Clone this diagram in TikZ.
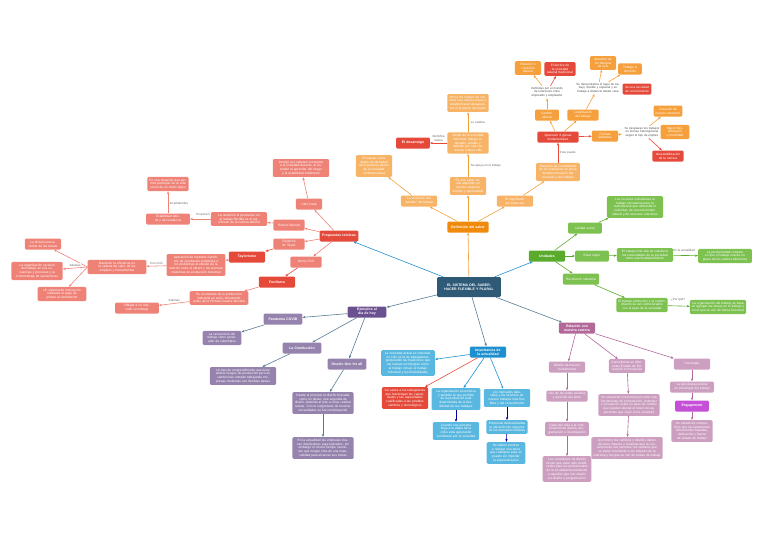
\documentclass[tikz,border=0pt]{standalone}
\usepackage{fontspec}
\setmainfont{Liberation Sans}
\usetikzlibrary{arrows.meta}
\definecolor{cen}{HTML}{2E5A78}
\definecolor{odk}{HTML}{F08A0C}
\definecolor{olt}{HTML}{F7B366}
\definecolor{omd}{HTML}{F5A03C}
\definecolor{rd}{HTML}{E5493A}
\definecolor{sal}{HTML}{EF8277}
\definecolor{gdk}{HTML}{5AAB2C}
\definecolor{glt}{HTML}{7DC150}
\definecolor{pdk}{HTML}{6B5190}
\definecolor{plt}{HTML}{9583AE}
\definecolor{bdk}{HTML}{1E8FCF}
\definecolor{blt}{HTML}{5AB8E0}
\definecolor{kdk}{HTML}{B3689A}
\definecolor{klt}{HTML}{CC9FC0}
\definecolor{mag}{HTML}{C54FD6}
\tikzset{
 bx/.style={rounded corners=1.2pt,text=white,align=center,inner sep=1.8pt,minimum height=11pt,font=\fontsize{3.2}{3.8}\selectfont},
 hd/.style={bx,font=\fontsize{3.5}{4.1}\selectfont\bfseries},
 lb/.style={font=\fontsize{3}{3.6}\selectfont,text=gray!80!black,fill=white,inner sep=0.6pt,align=center},
 tx/.style={font=\fontsize{3}{3.6}\selectfont,text=black!70,align=center,inner sep=1pt},
 ar/.style={-{Stealth[length=3pt,width=2.4pt]},line width=0.6pt},
}
\newcommand\mbx[5]{\pgfmathsetmacro\mw{#3*1.25}\node[#1,text width=\mw pt] (#2) at (#4) {#5};}
\begin{document}
\begin{tikzpicture}[x=1pt,y=-1pt]
\useasboundingbox (0,0) rectangle (768,543);
% central
\mbx{hd,fill=cen,minimum height=20pt}{c}{48}{469,287}{EL SISTEMA DEL SABERHACER FLEXIBLE Y PLURAL}
% ---------------- orange
\mbx{hd,fill=odk}{def}{30}{468,227}{Definición del saber}
\mbx{bx,fill=olt}{evo}{26}{419,201}{La evolución del ``sentido'' del trabajo}
\mbx{bx,fill=olt}{ide}{26}{374,166}{El trabajo como objeto de identidad de la persona dentro de la sociedad contemporánea}
\mbx{bx,fill=olt}{soc}{26}{468,186}{Es ese saber social adquirido en nuestra etapa de empleo y aprendizaje}
\mbx{bx,fill=olt}{sig}{26}{515,201}{El significado del saber-ser}
\mbx{bx,fill=olt}{gru}{30}{468,143}{Grupo de la sociedad industrial, trabajo ordenado, estable y definido por una carrera de toda la vida}
\mbx{hd,fill=rd}{des}{24}{413,143}{El desarraigo}
\mbx{bx,fill=olt}{ahr}{30}{468,103}{Ahora los riesgos de construir una carrera propia y estable hacen desaparecer el proyecto del sujeto}
\mbx{bx,fill=olt}{sit}{32}{558,172}{Situación de inestabilidad de los individuos en plena desestructuración del mercado y del trabajo}
\mbx{bx,fill=rd}{apa}{30}{558,137}{Aparecen 4 glosas fundamentales}
\mbx{bx,fill=omd}{ges}{16}{547,115}{Gestión laboral}
\mbx{bx,fill=omd}{loc}{22}{583,115}{Localización del trabajo}
\mbx{bx,fill=omd}{for}{18}{605,136}{Formas laborales}
\node[tx,text width=36pt] (t1) at (547,92) {Definidas por el mundo de relaciones entre empleado y empleador};
\mbx{bx,fill=omd}{rel}{18}{528,68}{Relación o condición laboral}
\mbx{bx,fill=rd}{dec}{22}{560,69}{El declive de la sociedad salarial tradicional}
\node[tx,text width=52pt] (t2) at (598,88) {Se descentraliza el lugar de trabajo, flexible y espacial y se trabaja a distancia desde casa};
\mbx{bx,fill=omd}{ocio}{18}{603,63}{Aumento de los tiempos de ocio}
\mbx{bx,fill=omd}{dom}{16}{630,69}{Trabajo a domicilio}
\mbx{bx,fill=rd}{uno}{20}{637,89}{de una sociedad de conocimiento}
\node[tx,text width=38pt] (t3) at (642,132) {Se desplazan los trabajos en formas heterogéneas según el tipo de empleo};
\mbx{bx,fill=omd}{cre}{20}{668,111}{Creación de nuevos contratos}
\mbx{bx,fill=omd}{may}{20}{675,132}{Mayor flexibilización y movilidad}
\mbx{bx,fill=rd}{dst}{22}{668,156}{desestabilización de la carrera}
\draw[ar,draw=odk!80] (c) -- (def);
\draw[ar,draw=odk!80] (def) -- (evo);
\draw[ar,draw=odk!80] (evo) -- (ide);
\draw[ar,draw=odk!80] (def) -- (soc);
\draw[ar,draw=odk!80] (def) -- (sig);
\draw[ar,draw=odk!80] (sig) -- (sit);
\draw[ar,draw=odk!80] (soc) -- node[lb,right,xshift=2pt]{Se apoya en el trabajo} (gru);
\draw[ar,draw=rd] (gru) -- node[lb,above=1pt]{Identifica\\Valora} (des);
\draw[ar,draw=odk!80] (gru) -- node[lb,right,xshift=2pt]{Lo celebra} (ahr);
\draw[ar,draw=rd] (sit) -- node[lb,right,xshift=1pt]{Cree puede} (apa);
\draw[ar,draw=odk!80] (apa) -- (ges);
\draw[ar,draw=odk!80] (apa) -- (loc);
\draw[ar,draw=rd] (apa) -- (for);
\draw[ar,draw=odk!80] (ges) -- (t1);
\draw[ar,draw=odk!80] (t1) -- (rel);
\draw[ar,draw=rd] (t1) -- (dec);
\draw[ar,draw=odk!80] (loc) -- (t2);
\draw[ar,draw=odk!80] (t2) -- (ocio);
\draw[ar,draw=odk!80] (t2) -- (dom);
\draw[ar,draw=rd] (t2) -- (uno);
\draw[ar,draw=odk!80] (for) -- (t3);
\draw[ar,draw=odk!80] (t3) -- (cre);
\draw[ar,draw=odk!80] (t3) -- (may);
\draw[ar,draw=rd] (t3) -- (dst);
% ---------------- green
\mbx{hd,fill=gdk}{uni}{26}{547,256}{Unidades}
\mbx{bx,fill=glt}{ns}{24}{585,228}{Unidad social}
\mbx{bx,fill=glt}{g1}{42}{635,207}{Los recursos individuales al trabajo necesarios para la subsistencia que demanda el individuo, de nuestra tiempo laboral y de recursos colectivos}
\mbx{bx,fill=glt}{em}{24}{592,256}{Estar mejor}
\mbx{bx,fill=glt}{g2}{42}{645,255}{El trabajo más allá de satisfacer las necesidades de la sociedad tiene una finalidad distinta}
\node[lb] (l1) at (684,250) {En la actualidad};
\mbx{bx,fill=glt}{g3}{40}{725,256}{La productividad consiste en que el trabajo suscite un grupo de los valores diferentes}
\mbx{bx,fill=glt}{ri}{26}{581,279}{Revolución industrial}
\mbx{bx,fill=glt}{g4}{38}{642,305}{El trabajo productivo y el sostenimiento se ven estructurados con el paso de la sociedad}
\node[lb] (l2) at (678,300) {¿Por qué?};
\mbx{bx,fill=glt}{g5}{42}{718,307}{La organización del trabajo se basa en agrupar las tareas en el trabajo y en el que se ven de forma funcional}
\draw[ar,draw=bdk] (c) -- (uni);
\draw[ar,draw=gdk] (uni) -- (ns);
\draw[ar,draw=gdk] (ns) -- (g1);
\draw[ar,draw=gdk] (uni) -- (em);
\draw[ar,draw=gdk] (em) -- (g2);
\draw[ar,draw=gdk] (g2) -- (g3);
\draw[ar,draw=gdk] (uni) -- (ri);
\draw[ar,draw=gdk] (ri) -- (g4);
\draw[ar,draw=gdk] (g4) -- (g5);
% ---------------- red / salmon
\mbx{hd,fill=rd}{pro}{28}{339,236}{Propuestas teóricas}
\mbx{bx,fill=sal}{lib}{18}{309,204}{Libro Desk}
\mbx{bx,fill=sal}{ld}{42}{301,168}{Inteligir sus saberes conceptos a la sociedad docente, al entender el aprender del riesgo y la estabilidad indiferente}
\mbx{bx,fill=sal}{rs}{22}{289,225}{Robert Sennett}
\mbx{bx,fill=sal}{rsb}{42}{239,219}{La rendición el productivo en el trabajo flexible es el significado de la carrera laboral}
\node[lb] at (203,215) {Proponen};
\mbx{bx,fill=sal}{est}{32}{168,219}{Estabilidad laboral y de residencia}
\node[lb] at (179,203) {Incertidumbre};
\mbx{bx,fill=sal}{est2}{30}{168,184}{En una situación que permite participar de la vida social de un modo digno}
\mbx{bx,fill=sal}{tay}{22}{289,244}{Frederick W. Taylor}
\mbx{hd,fill=rd}{tis}{26}{247,257}{Taylorismo}
\mbx{bx,fill=sal}{tb}{44}{196,265}{Aplicación de métodos científicos de orientación positivista a los problemas al estudio de la relación entre el obrero y las técnicas modernas de producción industrial}
\mbx{bx,fill=sal}{man}{44}{117,267}{Mantener la eficiencia en la cadena de valor, de los empleos y herramientas}
\mbx{bx,fill=sal}{m1}{26}{43,244}{La división proveniente de las tareas}
\mbx{bx,fill=sal}{m2}{38}{37,271}{La organización racional del trabajo en sus secuencias y procesos y la cronometraje de operaciones}
\mbx{bx,fill=sal}{m3}{36}{62,294}{Un sistema de motivación mediante el pago de primas al rendimiento}
\mbx{bx,fill=sal}{hf}{22}{306,262}{Henry Ford}
\mbx{hd,fill=rd}{fis}{26}{277,282}{Fordismo}
\mbx{bx,fill=sal}{fb}{44}{219,298}{Es un sistema de la producción industrial en serie, introducido antes de la Primera Guerra Mundial}
\mbx{bx,fill=sal}{obl}{32}{137,308}{Obligar a un mercado sin trabajo}
\draw[ar,draw=bdk] (c) -- (pro);
\draw[ar,draw=sal] (pro) -- (lib);
\draw[ar,draw=sal] (lib) -- (ld);
\draw[ar,draw=sal] (pro) -- (rs);
\draw[ar,draw=sal] (rs) -- (rsb);
\draw[ar,draw=sal] (rsb) -- (est);
\draw[ar,draw=sal] (est) -- (est2);
\draw[ar,draw=sal] (pro) -- (tay);
\draw[ar,draw=rd] (tay) -- (tis);
\draw[ar,draw=sal] (tis) -- (tb);
\draw[ar,draw=sal] (tb) -- node[lb,above=1pt]{Con el fin} (man);
\draw[ar,draw=sal] (man.west) -- (m1);
\draw[ar,draw=sal] (man.west) -- node[lb,above=1pt]{Además} (m2);
\draw[ar,draw=sal] (man.west) -- (m3);
\draw[ar,draw=sal] (pro) -- (hf);
\draw[ar,draw=rd] (hf) -- (fis);
\draw[ar,draw=sal] (fis) -- (fb);
\draw[ar,draw=sal] (fb) -- node[lb,above=1pt]{Además} (obl);
% ---------------- purple
\mbx{hd,fill=pdk}{eje}{28}{367,312}{Ejemplos al día de hoy}
\mbx{hd,fill=plt}{cov}{28}{283,319}{Pandemia COVID}
\mbx{bx,fill=plt}{covb}{28}{222,338}{La reinvención del trabajo como generador de subempleo}
\mbx{hd,fill=plt}{cond}{28}{302,348}{La Conducción}
\mbx{bx,fill=plt}{condb}{50}{243,376}{Un tipo de emprendimiento que tiene ambos riesgos de producción pero en cambio han entrado trabajando empresas modernas con flexibles tareas}
\mbx{hd,fill=plt}{dis}{28}{347,364}{Diseño One for all}
\mbx{bx,fill=plt}{disb}{46}{323,403}{Desde el principio el diseño buscaba como un deseo, una segunda de diseño obtenido al arte a crear, realizar tareas. Con el surgimiento de muchas necesidades se fue constituyendo}
\mbx{bx,fill=plt}{disc}{46}{323,448}{En la actualidad las empresas buscan diseñadores especializados, sin embargo el mismo tiempo necesitan que tengan más de una especialidad para alcanzar sus metas}
\draw[ar,draw=cen!80] (c) -- (eje);
\draw[ar,draw=cen!80] (eje) -- (cov);
\draw[ar,draw=cen!80] (cov) -- (covb);
\draw[ar,draw=cen!80] (eje) -- (cond);
\draw[ar,draw=cen!80] (cond) -- (condb);
\draw[ar,draw=cen!80] (eje) -- (dis);
\draw[ar,draw=cen!80] (dis) -- (disb);
\draw[ar,draw=cen!80] (disb) -- (disc);
% ---------------- blue
\mbx{hd,fill=bdk}{imp}{26}{488,352}{Importancia de la actualidad}
\mbx{bx,fill=blt}{b1}{40}{408,363}{La sociedad actual es industrial, no sólo es la de trabajadores, perdurando las tradiciones que las nuevas tecnologías como el trabajo virtual, el trabajo industrial y las flexibilidades}
\mbx{bx,fill=rd}{b2}{34}{405,398}{Se valora a los trabajadores que mantengan las capacidades y las capacidades cualificadas a las posibles cambios y tecnológicos}
\mbx{bx,fill=blt}{b3}{36}{456,399}{La organización económica y también la que permite de la producción está determinada de la flexibilidad de sus trabajos}
\mbx{bx,fill=blt}{b4}{34}{456,431}{Cuando una persona llega a la etapa de la crisis está generando confianzas por la sociedad}
\mbx{bx,fill=blt}{b5}{34}{507,398}{Los mercados laborales y los servicios de nuevos trabajos más flexibles y del conocimiento}
\mbx{bx,fill=blt}{b6}{30}{507,427}{Empresas deslocalizadas la ubicación de mayores de los mercados flexibles}
\mbx{bx,fill=blt}{b7}{28}{506,453}{No deben sentirse a realizar una tarea que califiquen para su puesto sin importar la especialización}
\draw[ar,draw=cen!80] (c) -- (imp);
\draw[ar,draw=bdk] (imp) -- (b1);
\draw[ar,draw=rd] (imp) -- (b2);
\draw[ar,draw=bdk] (imp) -- (b3);
\draw[ar,draw=blue!60!black] (b3) -- (b4);
\draw[ar,draw=bdk] (imp) -- (b5);
\draw[ar,draw=blue!60!black] (b5) -- (b6);
\draw[ar,draw=blue!60!black] (b6) -- (b7);
% ---------------- pink
\mbx{hd,fill=kdk}{rc}{26}{577,328}{Relación con nuestra carrera}
\mbx{bx,fill=klt}{k1}{26}{567,367}{Diseño de nuevos instrumentos}
\mbx{bx,fill=klt}{k2}{30}{567,396}{Uso de las redes sociales y elección del autor}
\mbx{bx,fill=klt}{k3}{32}{567,429}{Cada vez más a la combinación de diseño, programación e investigación}
\mbx{bx,fill=klt}{k4}{36}{567,469}{Los consultores de diseño tienen que estar más cualificados para los profesionales de la sociedad demandando a aquellos que son diseño en diseño o programación}
\mbx{bx,fill=klt}{k5}{26}{627,366}{Consultorías en diferentes Estado de Educación e Innovación}
\mbx{bx,fill=klt}{k6}{46}{629,405}{Se esfuerzan con funciones como una herramienta de comprensión, entender e innovación sobre su base de cambio que pueden afectar el futuro de las personas que viven en la sociedad}
\mbx{bx,fill=klt}{k7}{54}{627,448}{Así mismo los cambios y diseños deben de tener impacto y sistemas que la consultoría de sus sectores, los cambios que se están ocurriendo a los mejores de la industria y los que se ven de tareas de trabajo}
\mbx{bx,fill=klt}{k8}{26}{692,364}{Psicología}
\mbx{bx,fill=klt}{k9}{32}{692,387}{La psicología positiva en psicología del trabajo}
\mbx{hd,fill=mag}{k10}{24}{692,406}{Engagement}
\mbx{bx,fill=klt}{k11}{30}{692,431}{Un estado de compromiso que se caracterizan dimensiones basadas, dedicación y fuerza de estado de trabajo}
\draw[ar,draw=cen!80] (c) -- (rc);
\draw[ar,draw=kdk] (rc) -- (k1);
\draw[ar,draw=kdk] (k1) -- (k2);
\draw[ar,draw=kdk] (k2) -- (k3);
\draw[ar,draw=kdk] (k3) -- (k4);
\draw[ar,draw=kdk] (rc) -- (k5);
\draw[ar,draw=kdk] (k5) -- (k6);
\draw[ar,draw=kdk] (k6) -- (k7);
\draw[ar,draw=kdk] (rc) -- (k8);
\draw[ar,draw=kdk] (k8) -- (k9);
\draw[ar,draw=kdk] (k9) -- (k10);
\draw[ar,draw=kdk] (k10) -- (k11);
\end{tikzpicture}
\end{document}
